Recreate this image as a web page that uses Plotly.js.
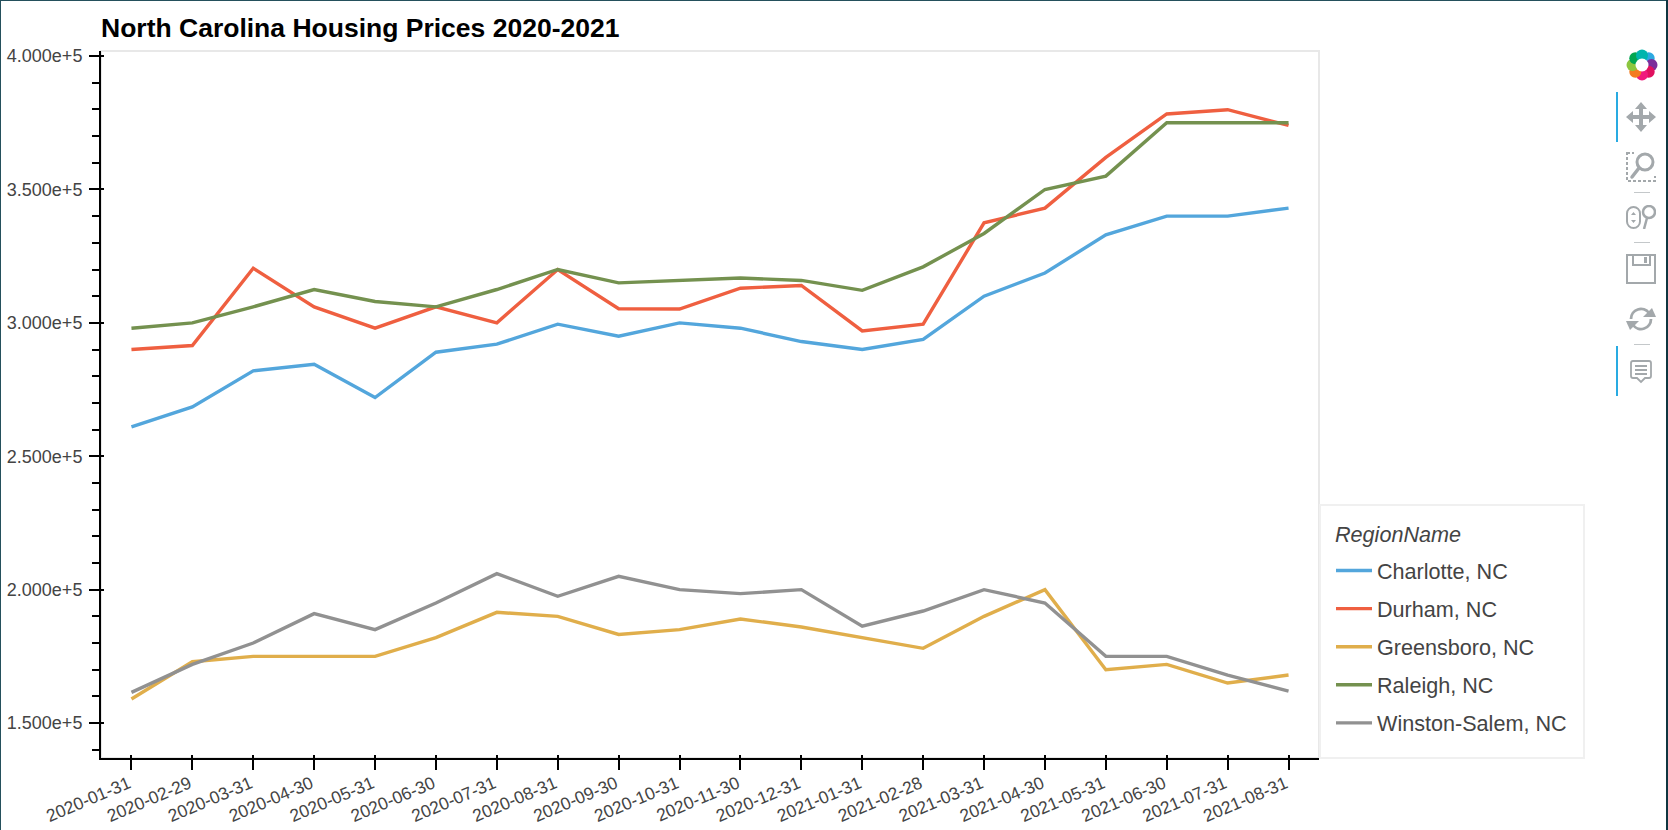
<!DOCTYPE html>
<html>
<head>
<meta charset="utf-8">
<script src="https://cdn.plot.ly/plotly-3.0.1.min.js"></script>
<style>
html,body{margin:0;padding:0;background:#fff;overflow:hidden}
#chart{position:absolute;left:0;top:0;width:1668px;height:830px}
.edge{position:absolute;z-index:5}
</style>
</head>
<body>
<div id="chart"></div>
<div class="edge" style="left:0;top:0;width:1668px;height:1px;background:#24505c"></div>
<div class="edge" style="left:0;top:0;width:1px;height:830px;background:#24505c"></div>
<div class="edge" style="left:1666px;top:0;width:2px;height:830px;background:#0f3540"></div>
<script>
const dates = ["2020-01-31","2020-02-29","2020-03-31","2020-04-30","2020-05-31","2020-06-30","2020-07-31","2020-08-31","2020-09-30","2020-10-31","2020-11-30","2020-12-31","2021-01-31","2021-02-28","2021-03-31","2021-04-30","2021-05-31","2021-06-30","2021-07-31","2021-08-31"];
const charlotte = [261000,268500,282000,284500,272000,289000,292000,299500,295000,300000,298000,293000,290000,293800,310000,318700,333000,340000,340000,343000];
const durham = [290000,291500,320500,306000,298000,306000,300000,320000,305300,305200,313000,314000,297000,299500,337500,343000,362000,378300,379900,374000];
const greensboro = [159000,173000,175000,175000,175000,182000,191500,190000,183200,185000,189000,186000,182000,178000,190000,200000,170000,172000,165000,168000];
const raleigh = [298000,300000,306000,312500,308000,306000,312500,320000,315000,316000,316800,315900,312200,321000,333500,350000,355000,375000,375000,375000];
const winstonSalem = [161500,172000,180000,191000,185000,195000,206000,197500,205000,200000,198500,200000,186300,192000,200000,195000,175000,175000,168000,162000];
const seriesNames = ["Charlotte, NC","Durham, NC","Greensboro, NC","Raleigh, NC","Winston-Salem, NC"];
const seriesValues = [charlotte,durham,greensboro,raleigh,winstonSalem];
const seriesColors = ["#53a6dc","#ef5f40","#e0ae4b","#74914f","#919191"];

const W=1668,H=830,L=101,T=51,R=1319,B=758;
const FONT='"Liberation Sans", Arial, sans-serif';
const px=x=>(x-L)/(R-L), py=y=>(B-y)/(B-T);
const yRange=[136900,401900], xRange=[-0.5,19.5];

const traces=seriesNames.map((n,i)=>({
  type:'scatter',mode:'lines',name:n,x:dates,y:seriesValues[i],
  legendgroup:n,line:{color:seriesColors[i],width:3.4}
}));
// carrier for the overlay axes that draw the inward part of the ticks
traces.push({type:'scatter',mode:'lines',x:dates,y:dates.map(()=>null),xaxis:'x2',yaxis:'y2',showlegend:false,hoverinfo:'skip'});

const svg=(w,h,body)=>'data:image/svg+xml;utf8,'+encodeURIComponent(`<svg xmlns="http://www.w3.org/2000/svg" width="${w}" height="${h}" viewBox="0 0 ${w} ${h}">${body}</svg>`);
const G='#a3a8ab';
function logoBody(){
  const c=['#2da9e0','#7b2d9b','#e0115f','#f0197d','#f47b20','#8cc63f','#00a651','#00b5ad'];
  let s='';
  c.forEach((col,i)=>{s+=`<ellipse cx="16" cy="6.5" rx="6" ry="6" fill="${col}" transform="rotate(${45*i+45} 16 16)"/>`;});
  s+='<circle cx="16" cy="16" r="6.5" fill="#fff"/>';
  return s;
}
const icons=[
 {x:1626,y:49,w:32,h:32,b:logoBody()},
 {x:1626,y:102,w:30,h:30,b:`<g fill="${G}"><path d="M15 0l6 7h-4v6h6V9l7 6-7 6v-4h-6v6h4l-6 7-6-7h4v-6H7v4l-7-6 7-6v4h6V7H9z"/></g>`},
 {x:1626,y:152,w:30,h:30,b:`<rect x="1" y="1" width="28" height="28" fill="none" stroke="${G}" stroke-width="2" stroke-dasharray="3 2"/><rect x="8" y="0" width="22" height="24" fill="#fff"/><circle cx="19" cy="10" r="8" fill="#fff" stroke="${G}" stroke-width="3"/><path d="M13 16L6 25" stroke="${G}" stroke-width="3.5" stroke-linecap="round"/>`},
 {x:1626,y:205,w:30,h:24,b:`<rect x="1" y="2" width="13" height="21" rx="6.5" fill="none" stroke="${G}" stroke-width="2"/><path d="M5 10l2.5-3 2.5 3zM5 15l2.5 3 2.5-3z" fill="${G}"/><circle cx="23" cy="7" r="6" fill="none" stroke="${G}" stroke-width="2.5"/><path d="M21 13l-3 11" stroke="${G}" stroke-width="2.5"/>`},
 {x:1626,y:254,w:30,h:30,b:`<rect x="1" y="1" width="28" height="28" fill="none" stroke="${G}" stroke-width="2"/><path d="M7 1v10h17V1" fill="none" stroke="${G}" stroke-width="2"/><rect x="18" y="3" width="3" height="6" fill="${G}"/>`},
 {x:1626,y:305,w:30,h:28,b:`<path d="M5 14a10 10 0 0 1 18-6" fill="none" stroke="${G}" stroke-width="2.8"/><path d="M17 12l13 0-4-9z" fill="${G}"/><path d="M25 14a10 10 0 0 1-18 6" fill="none" stroke="${G}" stroke-width="2.8"/><path d="M13 16l-13 0 4 9z" fill="${G}"/>`},
 {x:1630,y:360,w:22,h:24,b:`<path d="M3 1h16q2 0 2 2v13q0 2-2 2h-4l-4 4-4-4H3q-2 0-2-2V3q0-2 2-2z" fill="none" stroke="${G}" stroke-width="1.8"/><path d="M5 6h12M5 10h12M5 14h12" stroke="${G}" stroke-width="1.8"/>`}
];
const images=icons.map(o=>({source:svg(o.w,o.h,o.b),xref:'paper',yref:'paper',x:px(o.x),y:py(o.y),sizex:o.w/(R-L),sizey:o.h/(B-T),sizing:'stretch',xanchor:'left',yanchor:'top',layer:'above'}));

const rectPx=(x0,y0,x1,y1,fill)=>({type:'rect',xref:'paper',yref:'paper',x0:px(x0),x1:px(x1),y0:py(y0),y1:py(y1),fillcolor:fill,line:{width:0}});
const shapes=[
 {type:'rect',xref:'paper',yref:'paper',x0:0,x1:1,y0:0,y1:py(T),line:{color:'#e8e8e8',width:2},layer:'below'},
 {type:'rect',xref:'paper',yref:'paper',x0:px(1320),x1:px(1584),y0:py(505),y1:py(758),line:{color:'#f0f0f0',width:2},fillcolor:'#fff',layer:'below'},
 rectPx(1616,92,1618,142,'#29abe2'),
 rectPx(1616,346,1618,396,'#29abe2'),
 rectPx(1634,192,1650,193,'#c4c8ca'),
 rectPx(1634,242,1650,243,'#c4c8ca'),
 rectPx(1634,344,1650,345,'#c4c8ca')
];

const layout={
  width:W,height:H,
  margin:{l:L,r:W-R,t:T,b:H-B,pad:0},
  paper_bgcolor:'#fff',plot_bgcolor:'#fff',
  font:{family:FONT,color:'#444'},
  title:{text:'<b>North Carolina Housing Prices 2020-2021</b>',font:{family:FONT,size:26.5,color:'#000'},xref:'paper',x:0,xanchor:'left',yref:'container',y:0.966,yanchor:'middle'},
  showlegend:true,
  legend:{
    font:{family:FONT,size:21.6,color:'#444'},
    xref:'paper',yref:'paper',x:px(1331),y:py(550),xanchor:'left',yanchor:'top',
    borderwidth:0,bgcolor:'rgba(255,255,255,0)',
    traceorder:'grouped',tracegroupgap:7,itemwidth:36,itemclick:false
  },
  annotations:[{text:'<i>RegionName</i>',xref:'paper',yref:'paper',x:px(1333),y:py(534),xanchor:'left',yanchor:'middle',showarrow:false,font:{family:FONT,size:21.6,color:'#444'}}],
  xaxis:{type:'category',categoryorder:'array',categoryarray:dates,range:xRange,
    showgrid:false,zeroline:false,showline:true,linecolor:'#000',linewidth:2,
    ticks:'outside',ticklen:10,tickwidth:2,tickcolor:'#000',tickangle:-23,
    ticklabelstandoff:-3,ticklabelshift:-3,
    tickfont:{family:FONT,size:17.5,color:'#444'},tickmode:'array',tickvals:dates,ticktext:dates,automargin:false},
  yaxis:{range:yRange,showgrid:false,zeroline:false,showline:true,linecolor:'#000',linewidth:2,
    ticks:'outside',ticklen:10,tickwidth:2,tickcolor:'#000',tickformat:'.3e',tick0:0,dtick:50000,
    minor:{dtick:10000,tick0:0,ticks:'outside',ticklen:7,tickwidth:2,tickcolor:'#000',showgrid:false},
    ticklabelstandoff:3,tickfont:{family:FONT,size:18,color:'#444'},automargin:false},
  xaxis2:{type:'category',categoryorder:'array',categoryarray:dates,range:xRange,overlaying:'x',anchor:'y2',
    showgrid:false,zeroline:false,showline:false,ticks:'inside',ticklen:3,tickwidth:2,tickcolor:'#000',showticklabels:false,tickmode:'array',tickvals:dates},
  yaxis2:{range:yRange,overlaying:'y',anchor:'x2',showgrid:false,zeroline:false,showline:false,ticks:'inside',ticklen:3,tickwidth:2,tickcolor:'#000',showticklabels:false,tick0:0,dtick:50000},
  shapes:shapes,images:images
};
Plotly.newPlot('chart',traces,layout,{displayModeBar:false,responsive:false});
</script>
</body>
</html>
